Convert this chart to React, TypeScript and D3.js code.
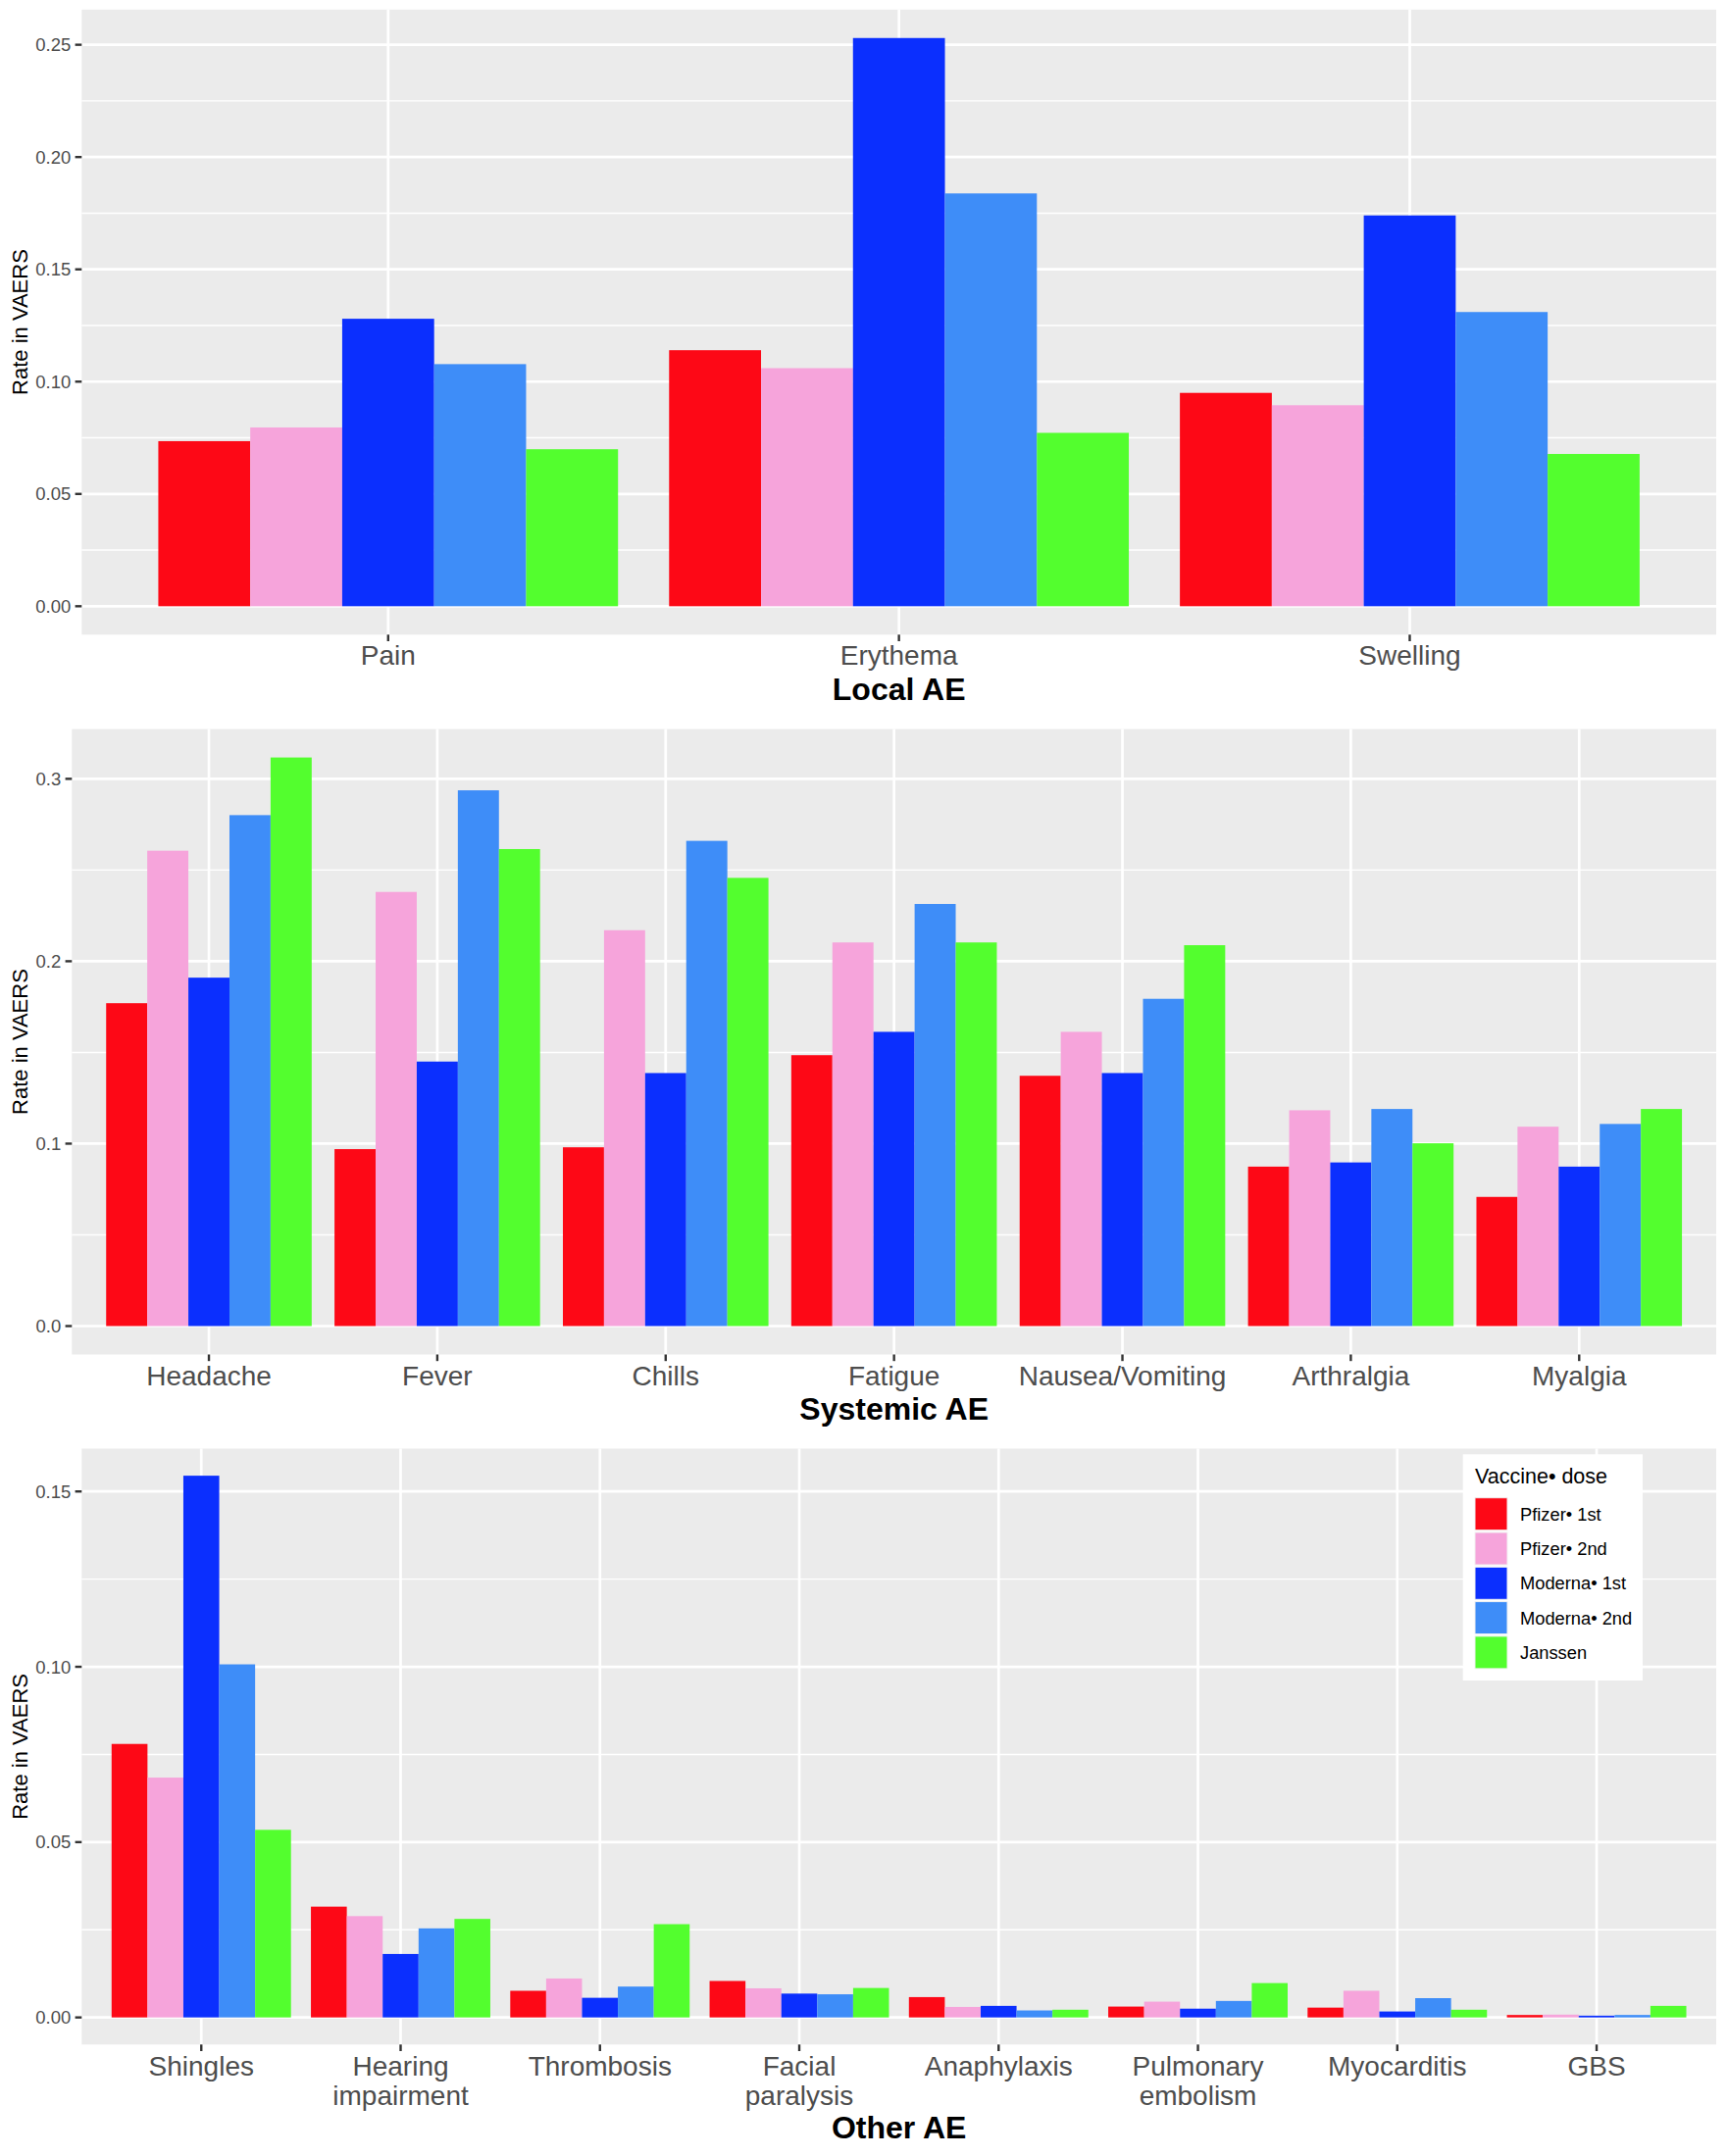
import React, { useEffect } from "react";
import * as d3 from "d3";

// ---------- data ----------
const seriesNames = ["Pfizer• 1st", "Pfizer• 2nd", "Moderna• 1st", "Moderna• 2nd", "Janssen"];
const seriesColors = ["#FD0816", "#F6A4DB", "#0B2FFE", "#3E8DF8", "#53FE2E"];

const localCategories = ["Pain", "Erythema", "Swelling"];
const localPfizer1st = [0.0735, 0.114, 0.095];
const localPfizer2nd = [0.0796, 0.106, 0.0895];
const localModerna1st = [0.128, 0.253, 0.174];
const localModerna2nd = [0.1078, 0.1838, 0.131];
const localJanssen = [0.0699, 0.0772, 0.0678];
const localTicks = [0, 0.05, 0.1, 0.15, 0.2, 0.25];

const systemicCategories = ["Headache", "Fever", "Chills", "Fatigue", "Nausea/Vomiting", "Arthralgia", "Myalgia"];
const systemicPfizer1st = [0.177, 0.097, 0.098, 0.1485, 0.1372, 0.0874, 0.0708];
const systemicPfizer2nd = [0.2606, 0.238, 0.217, 0.2103, 0.1613, 0.1183, 0.1093];
const systemicModerna1st = [0.191, 0.145, 0.1387, 0.1613, 0.1387, 0.0897, 0.0874];
const systemicModerna2nd = [0.2801, 0.2937, 0.266, 0.2314, 0.1794, 0.119, 0.1108];
const systemicJanssen = [0.3117, 0.2615, 0.2457, 0.2103, 0.2088, 0.1002, 0.119];
const systemicTicks = [0, 0.1, 0.2, 0.3];

const otherCategories = ["Shingles", "Hearing\nimpairment", "Thrombosis", "Facial\nparalysis", "Anaphylaxis", "Pulmonary\nembolism", "Myocarditis", "GBS"];
const otherPfizer1st = [0.078, 0.0316, 0.0076, 0.0104, 0.0058, 0.0031, 0.0028, 0.0007];
const otherPfizer2nd = [0.0684, 0.0289, 0.0111, 0.0083, 0.003, 0.0045, 0.0076, 0.0008];
const otherModerna1st = [0.1545, 0.0181, 0.0056, 0.0068, 0.0033, 0.0025, 0.0017, 0.0005];
const otherModerna2nd = [0.1007, 0.0254, 0.0088, 0.0066, 0.002, 0.0047, 0.0055, 0.0007];
const otherJanssen = [0.0535, 0.0281, 0.0266, 0.0084, 0.0022, 0.0098, 0.0022, 0.0033];
const otherTicks = [0, 0.05, 0.1, 0.15];

const FONT = "'Liberation Sans', Arial, Helvetica, sans-serif";

type PanelProps = {
  categories: string[];
  series: number[][];
  ticks: number[];
  tickFormat: string;
  left: number;
  right: number;
  top: number;
  bottom: number;
  labelBaseline: number;
  title: string;
  titleBaseline: number;
  legend?: boolean;
};

function Panel(p: PanelProps) {
  const maxV = d3.max(p.series.flat()) as number;
  const y = d3.scaleLinear().domain([-0.05 * maxV, 1.05 * maxV]).range([p.bottom, p.top]);
  const n = p.categories.length;
  const x = d3.scaleLinear().domain([0.4, n + 0.6]).range([p.left, p.right]);
  const groupWidth = 0.9;
  const sub = d3.scaleBand<number>().domain(d3.range(seriesNames.length)).range([-groupWidth / 2, groupWidth / 2]);
  const fmt = d3.format(p.tickFormat);
  const minor: number[] = [];
  const step = p.ticks[1] - p.ticks[0];
  const [d0, d1] = y.domain();
  for (let v = p.ticks[0] - step / 2; v <= d1; v += step) {
    if (v >= d0 && v <= d1) minor.push(v);
  }
  const midY = (p.top + p.bottom) / 2;
  return (
    <g>
      <rect x={p.left} y={p.top} width={p.right - p.left} height={p.bottom - p.top} fill="#EBEBEB" />
      {minor.map((v, i) => (
        <line key={"mi" + i} x1={p.left} x2={p.right} y1={y(v)} y2={y(v)} stroke="#fff" strokeWidth={1.4} />
      ))}
      {p.ticks.map((v, i) => (
        <line key={"ma" + i} x1={p.left} x2={p.right} y1={y(v)} y2={y(v)} stroke="#fff" strokeWidth={2.7} />
      ))}
      {p.categories.map((c, i) => (
        <line key={"vx" + i} x1={x(i + 1)} x2={x(i + 1)} y1={p.top} y2={p.bottom} stroke="#fff" strokeWidth={2.7} />
      ))}
      {p.series.map((vals, s) =>
        vals.map((v, i) => {
          const x0 = x(i + 1 + (sub(s) as number));
          const x1 = x(i + 1 + (sub(s) as number) + sub.bandwidth());
          return (
            <rect
              key={"b" + s + "-" + i}
              x={x0}
              y={y(v)}
              width={x1 - x0}
              height={y(0) - y(v)}
              fill={seriesColors[s]}
            />
          );
        })
      )}
      {/* y axis */}
      {p.ticks.map((v, i) => (
        <g key={"yt" + i}>
          <line x1={p.left - 6.7} x2={p.left} y1={y(v)} y2={y(v)} stroke="#333" strokeWidth={2.4} />
          <text
            x={p.left - 11}
            y={y(v)}
            textAnchor="end"
            dominantBaseline="central"
            fontSize={18.5}
            fill="#4D4D4D"
            fontFamily={FONT}
          >
            {fmt(v)}
          </text>
        </g>
      ))}
      <text
        transform={`translate(20,${midY}) rotate(-90)`}
        textAnchor="middle"
        dominantBaseline="central"
        fontSize={22}
        fill="#000"
        fontFamily={FONT}
      >
        Rate in VAERS
      </text>
      {/* x axis */}
      {p.categories.map((c, i) => (
        <g key={"xt" + i}>
          <line x1={x(i + 1)} x2={x(i + 1)} y1={p.bottom} y2={p.bottom + 6.7} stroke="#333" strokeWidth={2.4} />
          <text textAnchor="middle" fontSize={28} fill="#4D4D4D" fontFamily={FONT}>
            {c.split("\n").map((line, k) => (
              <tspan key={k} x={x(i + 1)} y={p.labelBaseline + k * 30}>
                {line}
              </tspan>
            ))}
          </text>
        </g>
      ))}
      <text
        x={(p.left + p.right) / 2}
        y={p.titleBaseline}
        textAnchor="middle"
        fontSize={32}
        fontWeight="bold"
        fill="#000"
        fontFamily={FONT}
      >
        {p.title}
      </text>
      {p.legend && (
        <g>
          <rect x={1491.7} y={1483.3} width={183.3} height={230.7} fill="#fff" />
          <text x={1504} y={1513.3} fontSize={21.5} fill="#000" fontFamily={FONT}>
            Vaccine• dose
          </text>
          {seriesNames.map((nm, s) => (
            <g key={"lg" + s}>
              <rect x={1504} y={1527.7 + s * 35.3} width={33} height={33} fill={seriesColors[s]} stroke="#F2F2F2" strokeWidth={1} />
              <text
                x={1550}
                y={1527.7 + s * 35.3 + 16.5}
                dominantBaseline="central"
                fontSize={18.3}
                fill="#000"
                fontFamily={FONT}
              >
                {nm}
              </text>
            </g>
          ))}
        </g>
      )}
    </g>
  );
}

export default function App() {
  useEffect(() => {
    document.body.style.margin = "0";
  }, []);
  return (
    <svg width={1761} height={2199} style={{ display: "block", background: "#fff" }}>
      <rect width={1761} height={2199} fill="#fff" />
      <Panel
        categories={localCategories}
        series={[localPfizer1st, localPfizer2nd, localModerna1st, localModerna2nd, localJanssen]}
        ticks={localTicks}
        tickFormat=".2f"
        left={83.3}
        right={1750}
        top={9.8}
        bottom={647.3}
        labelBaseline={678}
        title="Local AE"
        titleBaseline={714}
      />
      <Panel
        categories={systemicCategories}
        series={[systemicPfizer1st, systemicPfizer2nd, systemicModerna1st, systemicModerna2nd, systemicJanssen]}
        ticks={systemicTicks}
        tickFormat=".1f"
        left={73.3}
        right={1750}
        top={743.6}
        bottom={1381.5}
        labelBaseline={1413}
        title="Systemic AE"
        titleBaseline={1448}
      />
      <Panel
        categories={otherCategories}
        series={[otherPfizer1st, otherPfizer2nd, otherModerna1st, otherModerna2nd, otherJanssen]}
        ticks={otherTicks}
        tickFormat=".2f"
        left={83.3}
        right={1750}
        top={1477.5}
        bottom={2085.3}
        labelBaseline={2117}
        title="Other AE"
        titleBaseline={2181}
        legend
      />
    </svg>
  );
}
